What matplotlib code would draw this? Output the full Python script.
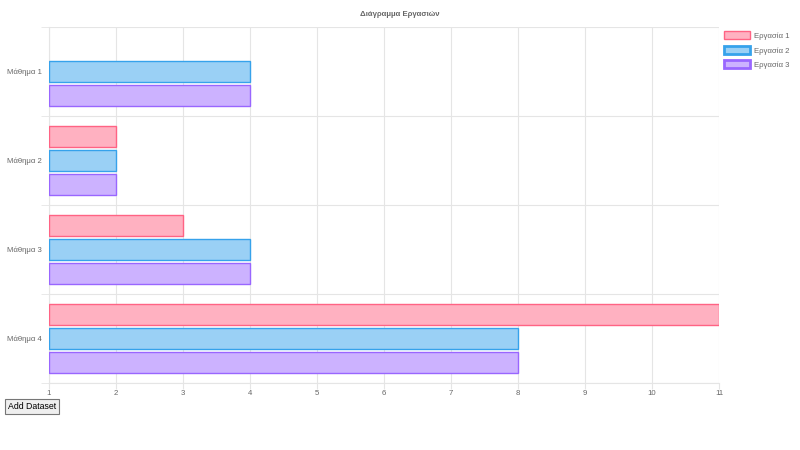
import matplotlib
matplotlib.use("Agg")
import matplotlib.pyplot as plt
import numpy as np

categories = ["Μάθημα 1", "Μάθημα 2", "Μάθημα 3", "Μάθημα 4"]
series_names = ["Εργασία 1", "Εργασία 2", "Εργασία 3"]
ergasia1 = [1, 2, 3, 11]
ergasia2 = [4, 2, 4, 8]
ergasia3 = [4, 2, 4, 8]
x_ticks = [1, 2, 3, 4, 5, 6, 7, 8, 9, 10, 11]

fills = ["#FFB1C1", "#9AD0F5", "#CCB2FF"]
edges = ["#FF6384", "#36A2EB", "#9966FF"]

FS = 5.6
plt.rcParams['font.family'] = ['Liberation Sans', 'DejaVu Sans']
fig = plt.figure(figsize=(8, 4.5), dpi=100)
ax = fig.add_axes([49/800, 67/450, 670/800, 356/450])

base = x_ticks[0]
n = len(series_names)
bh = 0.24
step = 0.8 / n
ypos = np.arange(len(categories))
for i, vals in enumerate([ergasia1, ergasia2, ergasia3]):
    off = (i - (n - 1) / 2) * step
    widths = [v - base for v in vals]
    bars = ax.barh(ypos + off, widths, left=base, height=bh,
                   color=fills[i], edgecolor=edges[i], linewidth=1,
                   label=series_names[i], zorder=3)
    for b, w in zip(bars, widths):
        if w <= 0:
            b.set_linewidth(0)

ax.set_xlim(x_ticks[0], x_ticks[-1])
ax.set_ylim(len(categories) - 0.5, -0.5)
ax.set_xticks(x_ticks)
ax.set_yticks(ypos)
ax.set_yticklabels(categories)
ax.set_yticks(np.arange(-0.5, len(categories), 1), minor=True)
gc = "#E5E5E5"
ax.grid(axis='x', which='major', color=gc, linewidth=0.8, zorder=0)
ax.grid(axis='y', which='minor', color=gc, linewidth=0.8, zorder=0)
ax.tick_params(axis='x', which='major', length=4, color=gc, labelsize=FS, labelcolor='#666666', pad=1)
ax.tick_params(axis='y', which='major', length=0, labelsize=FS, labelcolor='#666666', pad=5)
ax.tick_params(axis='y', which='minor', length=6, color=gc)
for s in ['top', 'right']:
    ax.spines[s].set_visible(False)
for s in ['left', 'bottom']:
    ax.spines[s].set_color(gc)
    ax.spines[s].set_linewidth(0.8)

fig.text(400/800, 1 - 15/450, "Διάγραμμα Εργασιών", ha='center', va='center',
         fontsize=FS, fontweight='bold', color='#666666')

leg = fig.legend(loc='upper right', bbox_to_anchor=(790/800, 1 - 31.5/450), frameon=False,
                 fontsize=FS, handlelength=3.3, handleheight=1.2, labelspacing=0.75,
                 handletextpad=0.6, borderaxespad=0, borderpad=0)
for t in leg.get_texts():
    t.set_color('#666666')
for h, lw in zip(leg.legend_handles, [1, 2, 2]):
    h.set_linewidth(lw)

fig.text(8/800, 1 - 406.5/450, "Add Dataset", ha='left', va='center', fontsize=6.3, color='black',
         bbox=dict(boxstyle='square,pad=0.3', facecolor='#EFEFEF', edgecolor='#767676', linewidth=0.8))

fig.savefig("out.png", dpi=100)
